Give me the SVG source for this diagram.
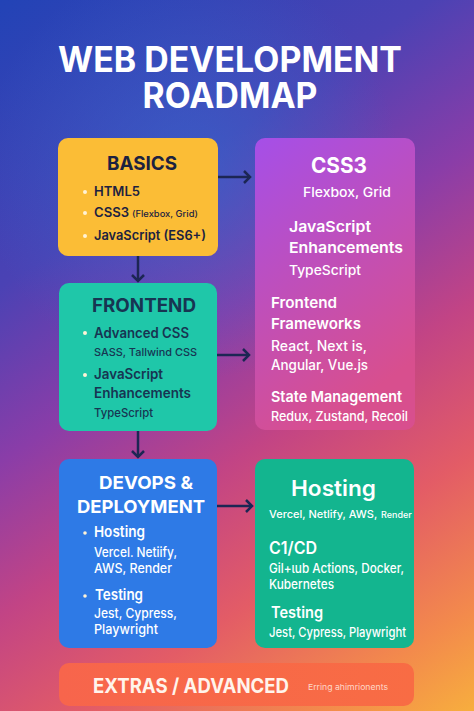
<svg xmlns="http://www.w3.org/2000/svg" width="474" height="711" viewBox="0 0 474 711">
<defs>
<linearGradient id="bg" gradientUnits="userSpaceOnUse" x1="0" y1="0" x2="474" y2="711">
<stop offset="0" stop-color="#2243B6"/>
<stop offset="0.28" stop-color="#4B42B4"/>
<stop offset="0.45" stop-color="#8A3DA8"/>
<stop offset="0.6" stop-color="#C24485"/>
<stop offset="0.75" stop-color="#E35C66"/>
<stop offset="0.9" stop-color="#F38A4C"/>
<stop offset="1" stop-color="#F7AE3E"/>
</linearGradient>
<radialGradient id="glow" gradientUnits="userSpaceOnUse" cx="190" cy="170" r="210">
<stop offset="0" stop-color="#2F6ED2" stop-opacity="0.55"/>
<stop offset="1" stop-color="#2F6ED2" stop-opacity="0"/>
</radialGradient>
<linearGradient id="purple" x1="0" y1="0" x2="0.4" y2="1">
<stop offset="0" stop-color="#A54FE8"/>
<stop offset="1" stop-color="#D84F8E"/>
</linearGradient>
<linearGradient id="orange" x1="0" y1="0" x2="1" y2="0">
<stop offset="0" stop-color="#F7654C"/>
<stop offset="1" stop-color="#F86C44"/>
</linearGradient>
<marker id="arr" markerUnits="userSpaceOnUse" markerWidth="12" markerHeight="14" refX="8" refY="7" orient="auto">
<path d="M2,1 L8,7 L2,13" fill="none" stroke="#1C2654" stroke-width="2.5"/>
</marker>
<style>
text{font-family:Inter,"Open Sans","Liberation Sans",sans-serif}
.title{fill:#fff;font-weight:700;font-size:35px}
.navy{fill:#1C2240}
.teal{fill:#173552}
.w{fill:#fff}
.h{font-weight:700}
.s{font-weight:600}
.m{font-weight:500}
.bul{fill:#FFF3D6}
.box{stroke:none}
.con line{stroke:#1C2654;stroke-width:2.5;marker-end:url(#arr)}
</style>
</defs>
<rect width="474" height="711" fill="url(#bg)"/>
<rect width="474" height="711" fill="url(#glow)"/>

<g id="title">
<text class="title" text-anchor="middle"><tspan x="230" y="72" textLength="344" lengthAdjust="spacingAndGlyphs">WEB DEVELOPMENT</tspan><tspan x="230" y="108" textLength="175" lengthAdjust="spacingAndGlyphs">ROADMAP</tspan></text>
</g>

<g class="con" id="connectors">
<line x1="218" y1="177" x2="250" y2="177"/>
<line x1="138" y1="256" x2="138" y2="281"/>
<line x1="217" y1="355" x2="249" y2="355"/>
<line x1="138" y1="431" x2="138" y2="457"/>
<line x1="217" y1="506" x2="252" y2="506"/>
</g>

<g id="basics">
<rect class="box" x="58" y="138" width="160" height="118" rx="10" fill="#FBBD36"/>
<text class="navy h" x="107" y="170" font-size="19" textLength="70" lengthAdjust="spacingAndGlyphs">BASICS</text>
<circle class="bul" cx="85" cy="192" r="2"/>
<text class="navy s" x="94" y="196" font-size="12.5" textLength="46" lengthAdjust="spacingAndGlyphs">HTML5</text>
<circle class="bul" cx="85" cy="213" r="2"/>
<text class="navy s" x="94" y="217" font-size="13" textLength="35" lengthAdjust="spacingAndGlyphs">CSS3</text>
<text class="navy m" x="132" y="217" font-size="8.5" textLength="66" lengthAdjust="spacingAndGlyphs">(Flexbox, Grid)</text>
<circle class="bul" cx="85" cy="236" r="2"/>
<text class="navy s" x="94" y="240" font-size="13" textLength="112" lengthAdjust="spacingAndGlyphs">JavaScript (ES6+)</text>
</g>

<g id="css3">
<rect class="box" x="255" y="138" width="160" height="292" rx="10" fill="url(#purple)"/>
<text class="w h" x="311" y="173" font-size="21" textLength="56" lengthAdjust="spacingAndGlyphs">CSS3</text>
<text class="w m" x="303" y="197" font-size="13" textLength="88" lengthAdjust="spacingAndGlyphs">Flexbox, Grid</text>
<text class="w s" x="289" y="232" font-size="15" textLength="82" lengthAdjust="spacingAndGlyphs">JavaScript</text>
<text class="w s" x="289" y="253" font-size="15" textLength="114" lengthAdjust="spacingAndGlyphs">Enhancements</text>
<text class="w m" x="289" y="275" font-size="13" textLength="72" lengthAdjust="spacingAndGlyphs">TypeScript</text>
<text class="w s" x="271" y="308" font-size="15" textLength="66" lengthAdjust="spacingAndGlyphs">Frontend</text>
<text class="w s" x="271" y="329" font-size="15" textLength="90" lengthAdjust="spacingAndGlyphs">Frameworks</text>
<text class="w m" x="271" y="351" font-size="14" textLength="96" lengthAdjust="spacingAndGlyphs">React, Next is,</text>
<text class="w m" x="271" y="370" font-size="14" textLength="97" lengthAdjust="spacingAndGlyphs">Angular, Vue.js</text>
<text class="w s" x="271" y="402" font-size="15" textLength="131" lengthAdjust="spacingAndGlyphs">State Management</text>
<text class="w m" x="271" y="421" font-size="13" textLength="137" lengthAdjust="spacingAndGlyphs">Redux, Zustand, Recoil</text>
</g>

<g id="frontend">
<rect class="box" x="59" y="283" width="158" height="148" rx="10" fill="#1FC7A9"/>
<text class="teal h" x="92" y="312" font-size="19" textLength="104" lengthAdjust="spacingAndGlyphs">FRONTEND</text>
<circle class="bul" cx="85" cy="333" r="2"/>
<text class="teal s" x="94" y="338" font-size="14" textLength="95" lengthAdjust="spacingAndGlyphs">Advanced CSS</text>
<text class="teal m" x="94" y="356" font-size="11" textLength="103" lengthAdjust="spacingAndGlyphs">SASS, Tallwind CSS</text>
<circle class="bul" cx="85" cy="375" r="2"/>
<text class="teal s" x="94" y="379" font-size="14" textLength="69" lengthAdjust="spacingAndGlyphs">JavaScript</text>
<text class="teal s" x="94" y="398" font-size="14" textLength="97" lengthAdjust="spacingAndGlyphs">Enhancements</text>
<text class="teal m" x="94" y="417" font-size="12" textLength="59" lengthAdjust="spacingAndGlyphs">TypeScript</text>
</g>

<g id="devops">
<rect class="box" x="59" y="459" width="158" height="189" rx="10" fill="#2E7AE6"/>
<text class="w h" x="99" y="489" font-size="18" textLength="94" lengthAdjust="spacingAndGlyphs">DEVOPS &amp;</text>
<text class="w h" x="77" y="513" font-size="18" textLength="128" lengthAdjust="spacingAndGlyphs">DEPLOYMENT</text>
<circle class="bul" cx="85" cy="533" r="1.8"/>
<text class="w s" x="94" y="537" font-size="15" textLength="51" lengthAdjust="spacingAndGlyphs">Hosting</text>
<text class="w m" x="94" y="557" font-size="13" textLength="83" lengthAdjust="spacingAndGlyphs">Vercel. Netiify,</text>
<text class="w m" x="94" y="573" font-size="13" textLength="78" lengthAdjust="spacingAndGlyphs">AWS, Render</text>
<circle class="bul" cx="85" cy="596" r="1.8"/>
<text class="w s" x="95" y="600" font-size="15" textLength="48" lengthAdjust="spacingAndGlyphs">Testing</text>
<text class="w m" x="94" y="618" font-size="13" textLength="83" lengthAdjust="spacingAndGlyphs">Jest, Cypress,</text>
<text class="w m" x="94" y="634" font-size="13" textLength="64" lengthAdjust="spacingAndGlyphs">Playwright</text>
</g>

<g id="hosting">
<rect class="box" x="255" y="459" width="159" height="189" rx="10" fill="#13B58F"/>
<text class="w s" x="291" y="496" font-size="22" textLength="85" lengthAdjust="spacingAndGlyphs">Hosting</text>
<text class="w m" x="269" y="518" font-size="11">Vercel, Netlify, AWS,</text>
<text class="w m" x="381" y="518" font-size="9">Render</text>
<text class="w s" x="269" y="554" font-size="17" textLength="48" lengthAdjust="spacingAndGlyphs">C1/CD</text>
<text class="w m" x="269" y="573" font-size="13" textLength="135" lengthAdjust="spacingAndGlyphs">Gil+ιub Actions, Docker,</text>
<text class="w m" x="269" y="589" font-size="13" textLength="65" lengthAdjust="spacingAndGlyphs">Kubernetes</text>
<text class="w s" x="271" y="618" font-size="16" textLength="52" lengthAdjust="spacingAndGlyphs">Testing</text>
<text class="w m" x="269" y="637" font-size="13" textLength="137" lengthAdjust="spacingAndGlyphs">Jest, Cypress, Playwright</text>
</g>

<g id="extras">
<rect class="box" x="59" y="663" width="355" height="43" rx="10" fill="url(#orange)"/>
<text class="h" x="93" y="693" font-size="20" fill="#FFF4EC" textLength="196" lengthAdjust="spacingAndGlyphs">EXTRAS / ADVANCED</text>
<text x="308" y="690" font-size="8" fill="#FFD8C8" textLength="80" lengthAdjust="spacingAndGlyphs">Erring ahimrionents</text>
</g>
</svg>
